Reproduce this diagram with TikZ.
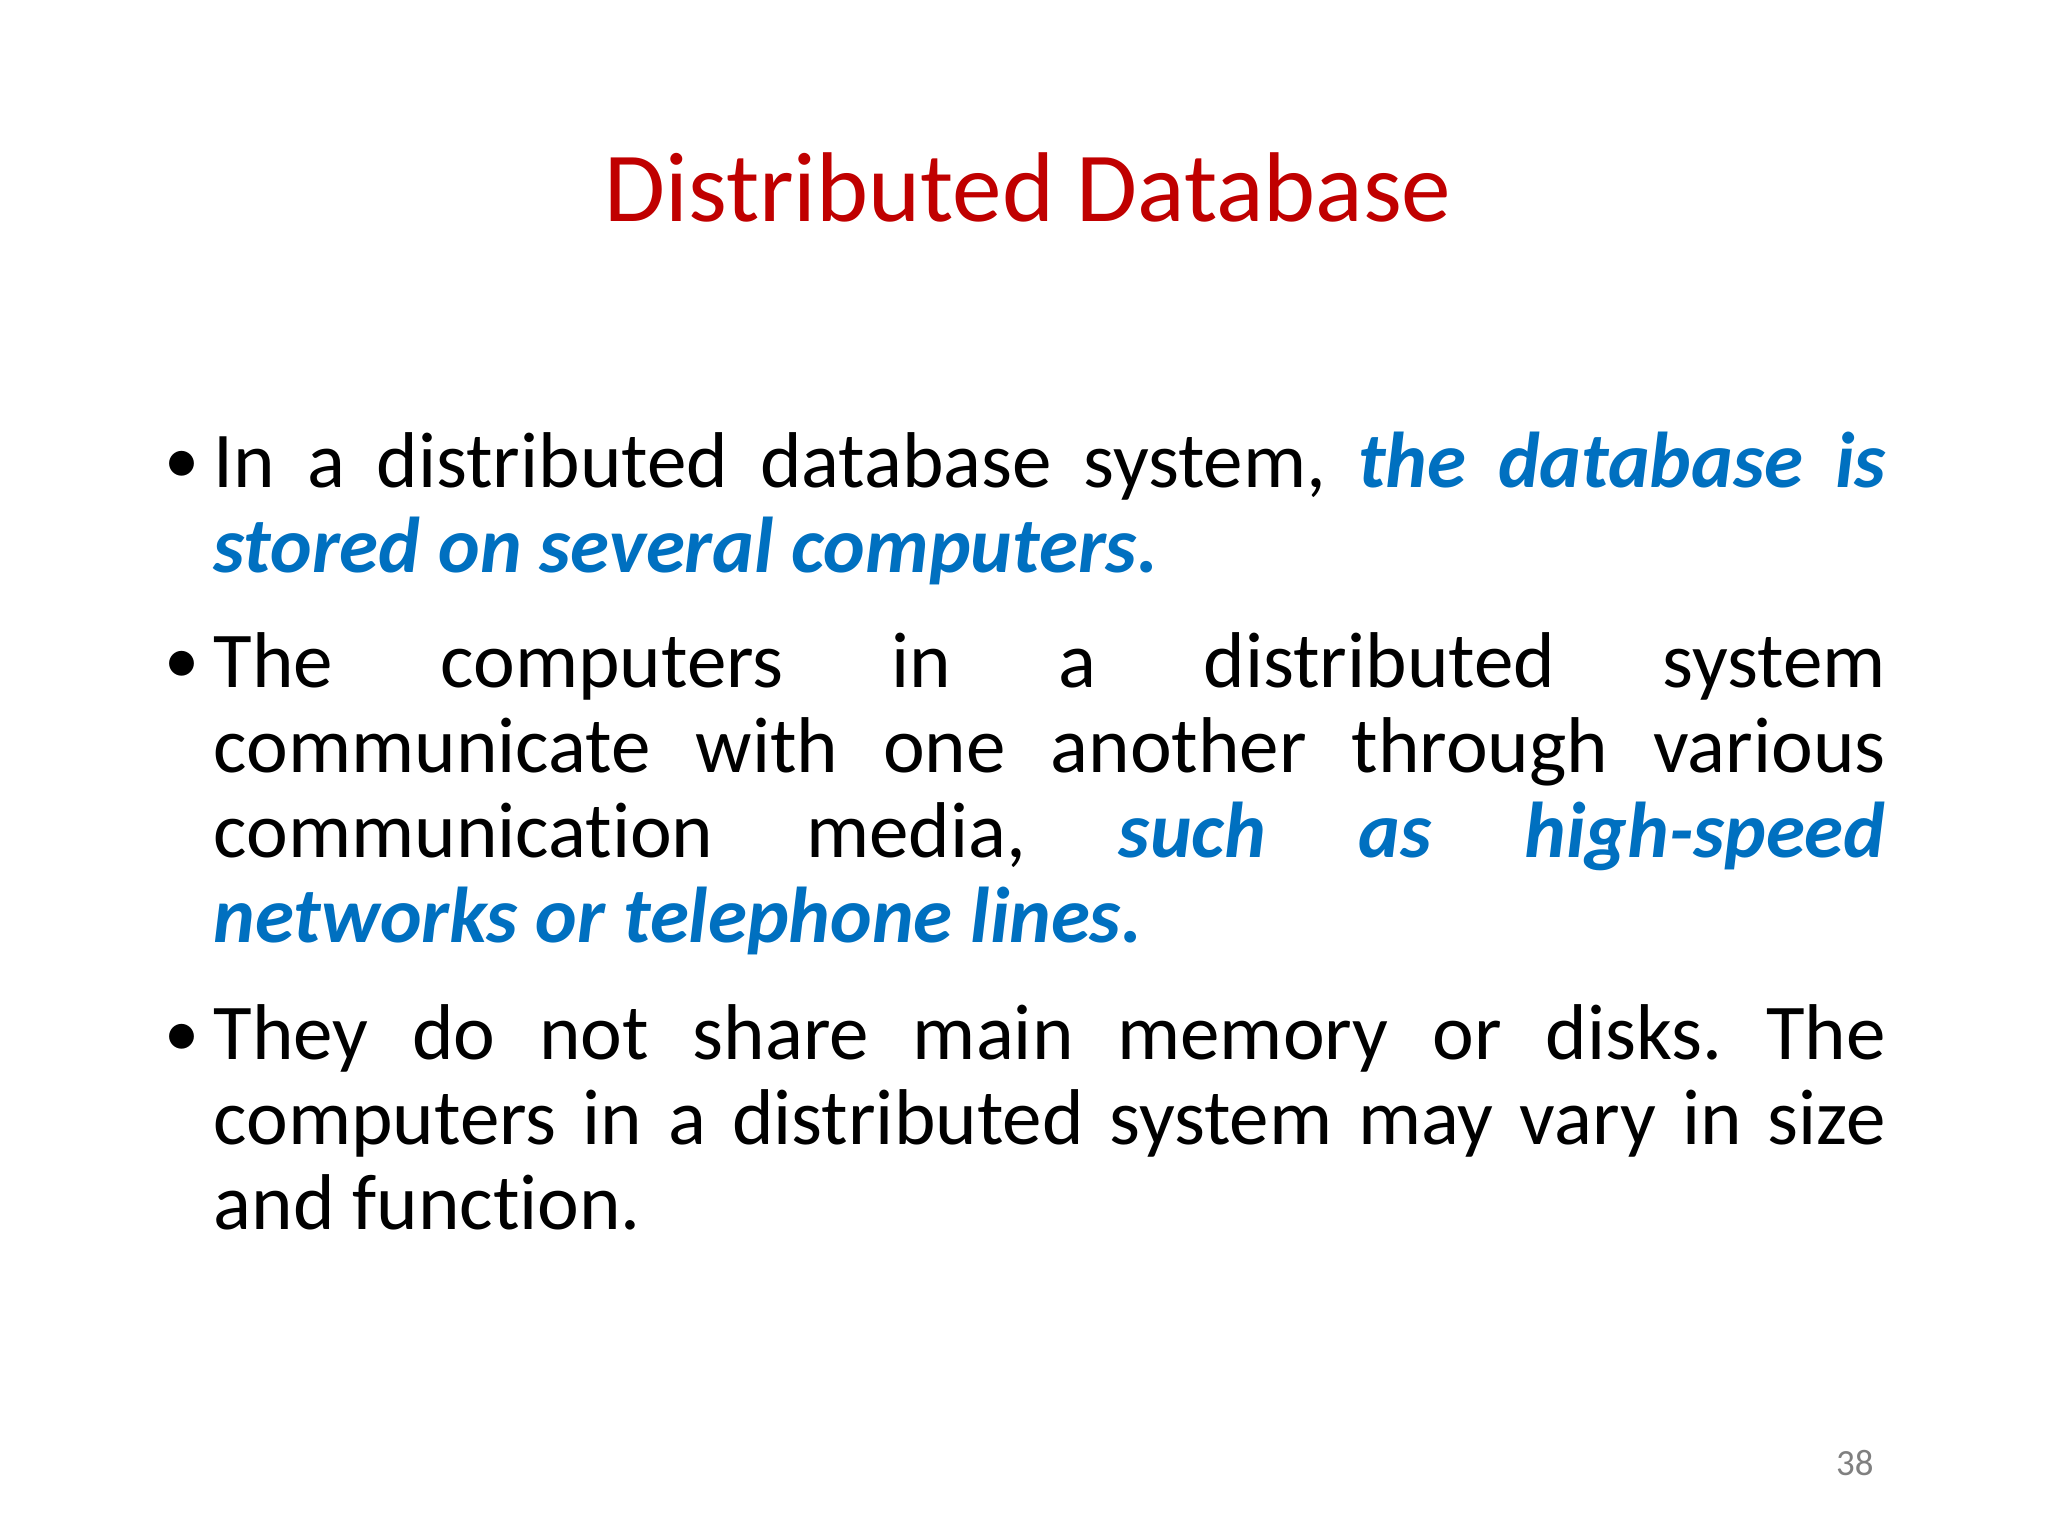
\documentclass[tikz,border=0pt]{standalone}
\usepackage{fontspec}
\setmainfont[RawFeature=-liga]{Carlito}
\definecolor{tred}{HTML}{C00000}
\definecolor{tblue}{HTML}{0070C0}
\newcommand{\hl}[1]{\textcolor{tblue}{\bfseries\itshape #1}}
\frenchspacing
\tikzset{body/.style={anchor=north west,inner sep=0pt,text width=16.72cm,align=justify,font=\fontsize{22.5}{24.2}\selectfont},
bul/.style={anchor=base west,inner sep=0pt,font=\fontsize{20}{24.2}\selectfont}}
\begin{document}
\begin{tikzpicture}
\useasboundingbox[fill=white] (0,0) rectangle (20.48,-15.36);
\node[anchor=base,font=\fontsize{28.2}{34}\selectfont,text=tred] (title) at (10.28,-2.22) {Distributed Database};
\node[bul] (b1) at (1.64,-4.84) {•};
\node[body] (t1) at (2.13,-4.27) {\strut In a distributed database system, \hl{the database is}\linebreak \hl{stored on several computers.}};
\node[bul] (b2) at (1.64,-6.84) {•};
\node[body] (t2) at (2.13,-6.27) {\strut The computers in a distributed system\linebreak communicate with one another through various\linebreak communication media, \hl{such as high-speed}\linebreak \hl{networks or telephone lines.}};
\node[bul] (b3) at (1.64,-10.56) {•};
\node[body] (t3) at (2.13,-9.99) {\strut They do not share main memory or disks. The\linebreak computers in a distributed system may vary in size\linebreak and function.};
\node[anchor=base east,font=\fontsize{10.5}{13}\selectfont,text=gray] (pg) at (18.86,-14.75) {38};
\end{tikzpicture}
\end{document}
